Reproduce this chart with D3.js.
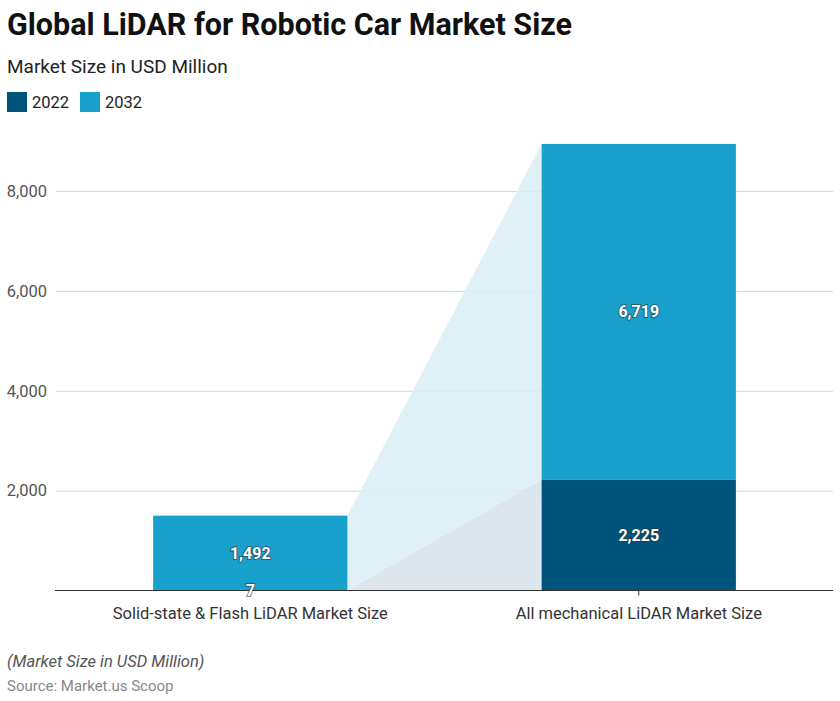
<!DOCTYPE html>
<html lang="en">

<head>
    <meta charset="UTF-8">
    <title>Global LiDAR for Robotic Car Market Size</title>
    <style>
        body { margin: 0; background: #fff; }
        svg { font-family: Roboto, sans-serif; display: block; }
    </style>
</head>

<body>
    <script src="https://d3js.org/d3.v7.min.js"></script>
    <div id="chart"></div>
    <script>

        const width = 840;
        const height = 701;

        //data
        const categories = ["Solid-state & Flash LiDAR Market Size", "All mechanical LiDAR Market Size"];
        const seriesNames = ["2022", "2032"];
        const values2022 = [7, 2225];
        const values2032 = [1492, 6719];
        const yTicks = [2000, 4000, 6000, 8000];

        const colors = ["#00537a", "#18a1cd"];
        const bridgeColors = ["#d6e2e9", "#d9eef6"];

        const margin = { top: 130, right: 7, bottom: 111, left: 56 };

        const rows = categories.map((c, i) => ({ cat: c, "2022": values2022[i], "2032": values2032[i] }));
        const stacked = d3.stack().keys(seriesNames)(rows);

        const x = d3.scaleBand()
            .domain(categories)
            .range([margin.left, width - margin.right])
            .paddingInner(0.5)
            .paddingOuter(0.25);

        const y = d3.scaleLinear()
            .domain([0, 8000])
            .range([height - margin.bottom + 0.5, height - margin.bottom + 0.5 - 8000 * 0.04993]);

        const svg = d3.select("#chart").append("svg")
            .attr("width", width)
            .attr("height", height);

        // titles
        svg.append("text")
            .attr("x", 7).attr("y", 35)
            .attr("font-size", 30.5).attr("font-weight", "bold").attr("fill", "#111")
            .text("Global LiDAR for Robotic Car Market Size");
        svg.append("text")
            .attr("x", 7).attr("y", 73)
            .attr("font-size", 19).attr("fill", "#222")
            .text("Market Size in USD Million");

        // legend
        const legend = svg.append("g").selectAll("g")
            .data(seriesNames)
            .join("g")
            .attr("transform", (d, i) => `translate(${7 + i * 73},92)`);
        legend.append("rect").attr("width", 20).attr("height", 20).attr("fill", (d, i) => colors[i]);
        legend.append("text").attr("x", 25).attr("y", 16).attr("font-size", 16.5).attr("fill", "#222").text(d => d);

        // grid + y axis
        svg.append("g")
            .attr("transform", `translate(${margin.left},0)`)
            .call(d3.axisLeft(y).tickValues(yTicks).tickSize(-(width - margin.left - margin.right)).tickFormat(d3.format(",")))
            .call(g => g.select(".domain").remove())
            .call(g => g.selectAll(".tick line").attr("stroke", "#d6d6d6"))
            .call(g => g.selectAll(".tick text").attr("x", -9).attr("font-size", 16.5).attr("fill", "#555").attr("font-family", "Roboto, sans-serif"));

        // bridges between bars
        const bridges = svg.append("g");
        stacked.forEach((s, si) => {
            const a = s[0], b = s[1];
            const x0 = x(categories[0]) + x.bandwidth();
            const x1 = x(categories[1]);
            bridges.append("path")
                .attr("fill", bridgeColors[si])
                .attr("fill-opacity", 0.85)
                .attr("d", d3.line()([[x0, y(a[1])], [x1, y(b[1])], [x1, y(b[0])], [x0, y(a[0])]]) + "Z");
        });

        // bars
        svg.append("g")
            .selectAll("g")
            .data(stacked)
            .join("g")
            .attr("fill", (d, i) => colors[i])
            .selectAll("rect")
            .data(d => d)
            .join("rect")
            .attr("x", d => x(d.data.cat))
            .attr("y", d => y(d[1]))
            .attr("height", d => y(d[0]) - y(d[1]))
            .attr("width", x.bandwidth());

        // x axis
        svg.append("g")
            .attr("transform", `translate(0,${y(0)})`)
            .call(d3.axisBottom(x).tickSize(5).tickPadding(12))
            .call(g => g.select(".domain").attr("stroke", "#333").attr("d", `M${margin.left - 1},0H${width - margin.right}`))
            .call(g => g.selectAll(".tick line").attr("stroke", "#333"))
            .call(g => g.selectAll(".tick text").attr("font-size", 16.5).attr("fill", "#333").attr("font-family", "Roboto, sans-serif"));

        // value labels
        const labels = stacked.flatMap(s => s.map(d => ({ d, v: d[1] - d[0] })));
        svg.append("g")
            .attr("font-size", 16).attr("font-weight", "bold").attr("text-anchor", "middle")
            .selectAll("text")
            .data(labels)
            .join("text")
            .attr("x", l => x(l.d.data.cat) + x.bandwidth() / 2)
            .attr("y", l => (y(l.d[0]) + y(l.d[1])) / 2)
            .attr("dy", "0.35em")
            .attr("fill", "#fff")
            .attr("stroke", "#333")
            .attr("stroke-width", 2)
            .attr("stroke-opacity", 0.6)
            .attr("paint-order", "stroke")
            .text(l => d3.format(",")(l.v));

        // footer
        svg.append("text")
            .attr("x", 7).attr("y", 667)
            .attr("font-size", 16.5).attr("font-style", "italic").attr("fill", "#555")
            .text("(Market Size in USD Million)");
        svg.append("text")
            .attr("x", 7).attr("y", 691)
            .attr("font-size", 15).attr("fill", "#888")
            .text("Source: Market.us Scoop");

    </script>
</body>

</html>
